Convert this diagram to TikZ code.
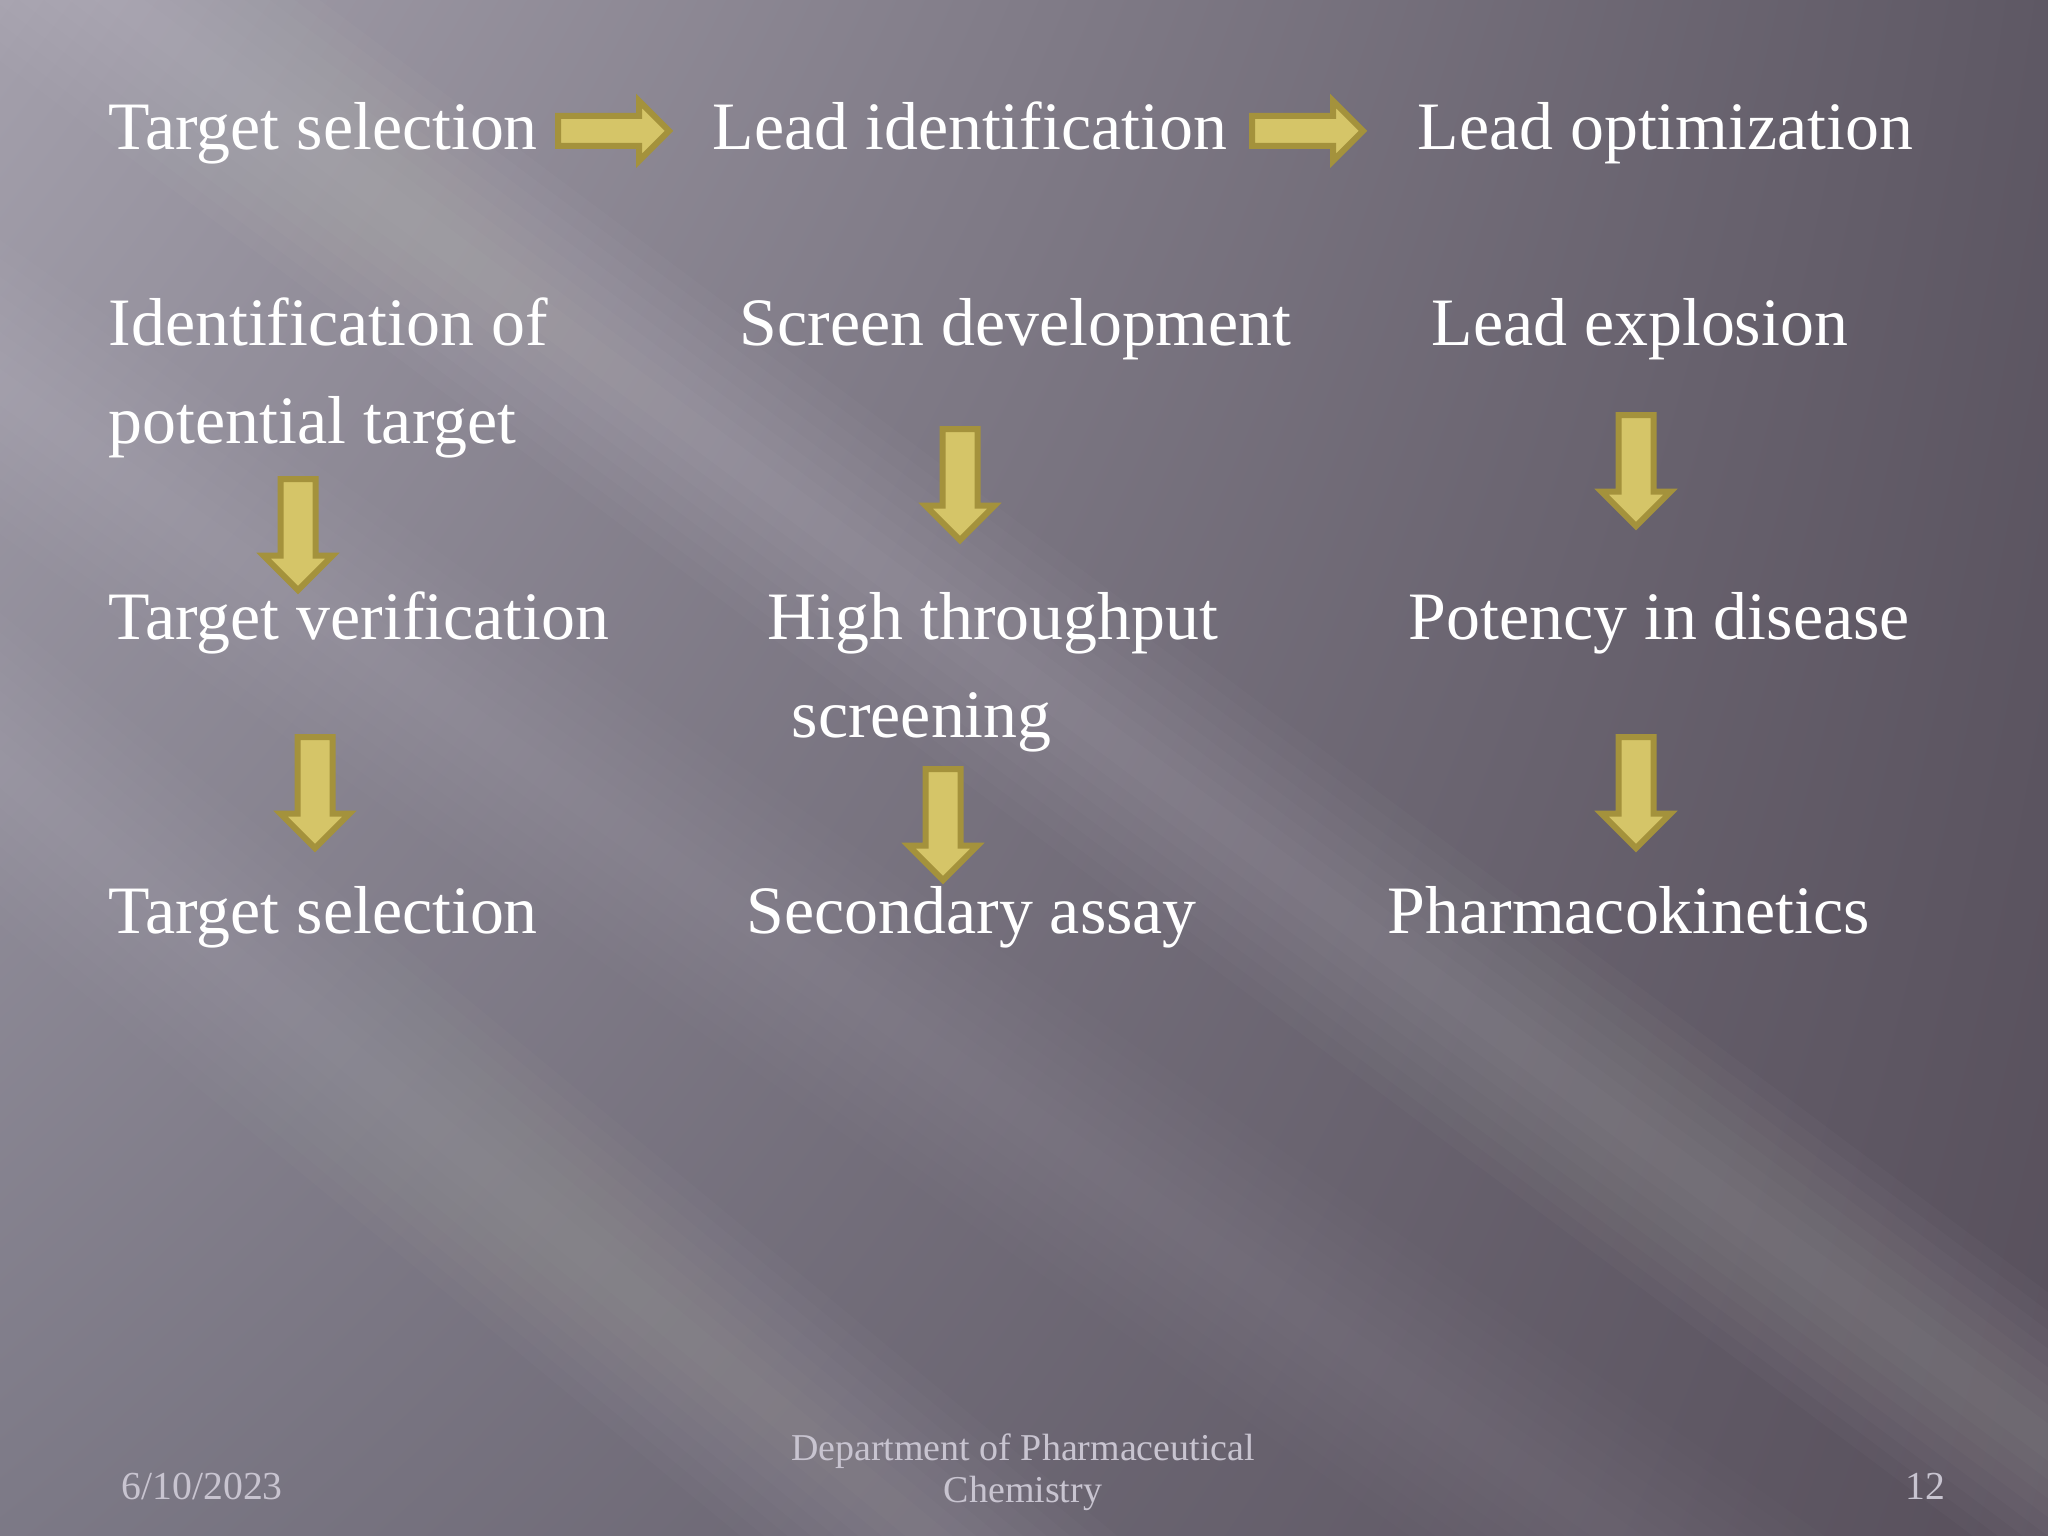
\documentclass[tikz,border=0pt]{standalone}
\usepackage{fontspec}
\setmainfont{Liberation Serif}
\usetikzlibrary{shapes.arrows,shadings}

\definecolor{bgul}{RGB}{164,160,172}
\definecolor{bgur}{RGB}{94,88,100}
\definecolor{bgll}{RGB}{124,121,134}
\definecolor{bglr}{RGB}{88,80,92}
\definecolor{arrowfill}{RGB}{213,197,104}
\definecolor{arrowline}{RGB}{164,146,60}
\definecolor{footgray}{RGB}{200,196,208}

\begin{document}
\begin{tikzpicture}
		\tikzset{step label/.style = {anchor=base west, inner sep=0, text=white,
			font=\fontsize{19.3}{27.9}\selectfont, align=left}}
		\tikzset{foot/.style = {inner sep=0, text=footgray,
			font=\fontsize{10.8}{11.7}\selectfont, align=center}}
		\tikzset{rarrow/.style = {single arrow, draw=arrowline, fill=arrowfill,
			line width=0.06cm, inner sep=0.12cm, single arrow head extend=0.15cm,
			single arrow head indent=0, minimum height=1.11cm}}
		\tikzset{darrow/.style = {rarrow, rotate=-90, inner sep=0.145cm,
			single arrow head extend=0.17cm}}
		
		% background
		\useasboundingbox (0,0) rectangle (20.48,15.36);
		\shade[upper left=bgul, upper right=bgur, lower left=bgll, lower right=bglr]
			(0,0) rectangle (20.48,15.36);
		\begin{scope}
		\clip (0,0) rectangle (20.48,15.36);
		\foreach \w in {0.3,0.6,0.9,1.2,1.5,1.8,2.1,2.4} {
			\draw[white, opacity=0.018, line width=\w cm]
				(-1.0,17.0) -- (22.0,-0.2);
			\draw[white, opacity=0.016, line width=\w cm]
				(-1.0,8.5) -- (10.5,-1.0);
			\draw[white, opacity=0.012, line width=\w cm]
				(-1.0,12.2) -- (18.0,-1.3);
		}
		\end{scope}
		
		\node[step label]  (1) at ( 1.08, 13.86) {Target selection};
		\node[step label]  (2) at ( 7.12, 13.86) {Lead identification};
		\node[step label]  (3) at (14.17, 13.86) {Lead optimization};
		\node[step label]  (4) at ( 1.08, 10.92) {Identification of\\potential target};
		\node[step label]  (5) at ( 7.39, 11.90) {Screen development};
		\node[step label]  (6) at (14.31, 11.90) {Lead explosion};
		\node[step label]  (7) at ( 1.08,  8.96) {Target verification};
		\node[step label]  (8) at ( 7.67,  7.98) {High throughput\\\hspace*{0.24cm}screening};
		\node[step label]  (9) at (14.08,  8.96) {Potency in disease};
		\node[step label] (10) at ( 1.08,  6.02) {Target selection};
		\node[step label] (11) at ( 7.46,  6.02) {Secondary assay};
		\node[step label] (12) at (13.87,  6.02) {Pharmacokinetics};
		
		\node[foot, anchor=base west] (13) at ( 1.21, 0.36) {\fontsize{11.3}{12}\selectfont 6/10/2023};
		\node[foot, anchor=south]     (14) at (10.23, 0.25) {Department of Pharmaceutical\\Chemistry};
		\node[foot, anchor=base east] (15) at (19.46, 0.36) {\fontsize{11.3}{12}\selectfont 12};
		
		% arrow ends
		\coordinate (21) at ( 5.48, 14.05);
		\coordinate (22) at ( 6.64, 14.05);
		\coordinate (23) at (12.42, 14.05);
		\coordinate (24) at (13.58, 14.05);
		\coordinate (25) at ( 2.98, 10.68);
		\coordinate (26) at ( 2.98,  9.52);
		\coordinate (27) at ( 9.60, 11.18);
		\coordinate (28) at ( 9.60, 10.02);
		\coordinate (29) at (16.36, 11.32);
		\coordinate (30) at (16.36, 10.16);
		\coordinate (31) at ( 3.15,  8.10);
		\coordinate (32) at ( 3.15,  6.94);
		\coordinate (33) at ( 9.43,  7.78);
		\coordinate (34) at ( 9.43,  6.62);
		\coordinate (35) at (16.36,  8.10);
		\coordinate (36) at (16.36,  6.94);
		
		\path (21) -- node[rarrow] {} (22);
		\path (23) -- node[rarrow] {} (24);
		\path (25) -- node[darrow] {} (26);
		\path (27) -- node[darrow] {} (28);
		\path (29) -- node[darrow] {} (30);
		\path (31) -- node[darrow] {} (32);
		\path (33) -- node[darrow] {} (34);
		\path (35) -- node[darrow] {} (36);
		\end{tikzpicture}
\end{document}
